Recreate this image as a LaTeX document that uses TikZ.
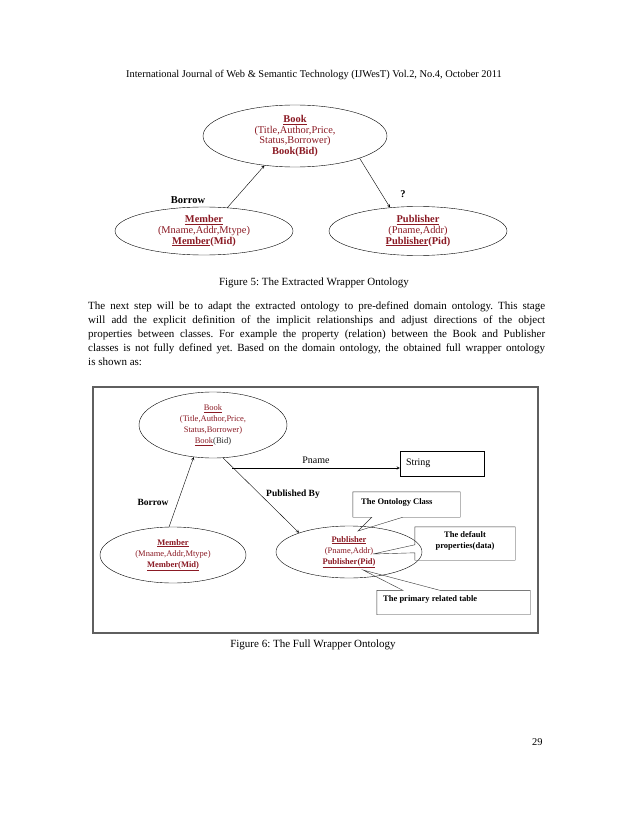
\documentclass[tikz,border=0pt]{standalone}
\usepackage{fontspec}
\setmainfont{Liberation Serif}
\usepackage{xcolor}
\usetikzlibrary{shapes.geometric,calc}
\definecolor{classred}{RGB}{139,26,36}
\definecolor{framegray}{RGB}{95,95,95}
\frenchspacing

\begin{document}
\begin{tikzpicture}[x=1pt,y=-1pt,
		cls/.style={ellipse,draw,inner sep=0pt,align=center,text=classred},
		note/.style={inner sep=0pt,font=\fontsize{8.5}{11}\selectfont\bfseries},
		callout/.style={draw,black!80}]
		\useasboundingbox[fill=white] (0,0) rectangle (638,826);
		% page text
		\node[font=\fontsize{10.4}{12}\selectfont] (header) at (314,75) {International Journal of Web \& Semantic Technology (IJWesT) Vol.2, No.4, October 2011};
		\node[font=\fontsize{11}{13}\selectfont] (cap5) at (314,283) {Figure 5: The Extracted Wrapper Ontology};
		\node[anchor=north west, inner sep=0pt, text width=457pt, align=justify, font=\fontsize{11}{14}\selectfont] (para) at (88,302) {The next step will be to adapt the extracted ontology to pre-defined domain ontology. This stage\linebreak will add the explicit definition of the implicit relationships and adjust directions of the object\linebreak properties between classes. For example the property (relation) between the Book and Publisher\linebreak classes is not fully defined yet. Based on the domain ontology, the obtained full wrapper ontology\linebreak is shown as:};
		\node[font=\fontsize{11}{13}\selectfont] (cap6) at (313,645) {Figure 6: The Full Wrapper Ontology};
		\node[anchor=east, font=\fontsize{10.4}{12}\selectfont] (pageno) at (546,742) {29};

		% Figure 5: extracted ontology
		\begin{scope}[font=\fontsize{10.4}{10.6}\selectfont]
			\node[cls, minimum width=184pt, minimum height=62pt] (book5) at (295,136) {\underline{\textbf{Book}}\\(Title,Author,Price,\\Status,Borrower)\\\textbf{Book(Bid)}};
			\node[cls, minimum width=178pt, minimum height=48pt] (member5) at (204,231) {\underline{\textbf{Member}}\\(Mname,Addr,Mtype)\\\textbf{\underline{Member}(Mid)}};
			\node[cls, minimum width=178pt, minimum height=49pt] (pub5) at (418,231) {\underline{\textbf{Publisher}}\\(Pname,Addr)\\\textbf{\underline{Publisher}(Pid)}};
			\draw[-stealth] (member5.45) -- (book5.224);
			\draw[-stealth] (book5.-19) -- (pub5.140);
			\node[font=\fontsize{10.5}{12}\selectfont\bfseries] (borrow5) at (188,200) {Borrow};
			\node[font=\fontsize{10.5}{12}\selectfont\bfseries] (ask5) at (403,194) {?};
		\end{scope}

		% Figure 6: full wrapper ontology
		\draw[framegray, line width=1.2pt] (93,387) rectangle (538,633);
		\begin{scope}[font=\fontsize{8.5}{11}\selectfont]
			\node[cls, minimum width=148pt, minimum height=66pt] (book6) at (213,425) {\underline{Book}\\(Title,Author,Price,\\Status,Borrower)\\\underline{Book}\textcolor{black!85}{(Bid)}};
			\node[cls, minimum width=146pt, minimum height=56pt] (member6) at (173,555) {\underline{\textbf{Member}}\\(Mname,Addr,Mtype)\\\textbf{\underline{Member(Mid)}}};
			\node[cls, minimum width=146pt, minimum height=52pt] (pub6) at (349,552) {\underline{\textbf{Publisher}}\\(Pname,Addr)\\\textbf{\underline{Publisher(Pid)}}};
		\end{scope}
		\node[draw, minimum width=84pt, minimum height=25pt, inner xsep=6pt, text width=72pt, align=left, font=\fontsize{10}{12}\selectfont] (string) at (442,463.5) {String};
		\coordinate (pnstart) at (232,468);
		\draw[-stealth] (pnstart) -- (pnstart -| string.west) node[midway, above=1pt, font=\fontsize{10}{12}\selectfont] (pname) {Pname};
		\draw[-stealth] (book6.-73) -- (pub6.159);
		\draw[-stealth] (member6.98) -- (book6.239);
		\node[font=\fontsize{9.5}{12}\selectfont\bfseries] (borrow6) at (153,502) {Borrow};
		\node[font=\fontsize{9.5}{12}\selectfont\bfseries] (pubby) at (293,494) {Published By};

		% callouts
		\node[note, minimum width=107pt, minimum height=25pt] (ontclass) at (406.5,504.5) {};
		\node[note, anchor=west] (ontclasstext) at (361,502) {The Ontology Class};
		\coordinate (ontclasstip) at (358,531);
		\draw[callout] (ontclass.south west) -- (ontclass.north west) -- (ontclass.north east) -- (ontclass.south east)
			-- ($(ontclass.south west)+(50,0)$) -- (ontclasstip) -- ($(ontclass.south west)+(19,0)$) -- cycle;

		\node[note, minimum width=100pt, minimum height=33pt] (defprops) at (465,543.5) {};
		\node[note, align=center] (defpropstext) at (465,541) {The default\\properties(data)};
		\coordinate (defpropstip) at (373,554);
		\draw[callout] (defprops.north west) -- (defprops.north east) -- (defprops.south east) -- (defprops.south west)
			-- ($(defprops.north west)+(0,26)$) -- (defpropstip) -- ($(defprops.north west)+(0,18)$) -- cycle;

		\node[note, minimum width=153pt, minimum height=24pt] (primtable) at (453.5,602.5) {};
		\node[note, anchor=west] (primtabletext) at (383,599.5) {The primary related table};
		\coordinate (primtabletip) at (363,570);
		\draw[callout] (primtable.north west) -- ($(primtable.north west)+(26,0)$) -- (primtabletip) -- ($(primtable.north west)+(63,0)$)
			-- (primtable.north east) -- (primtable.south east) -- (primtable.south west) -- cycle;
	\end{tikzpicture}
\end{document}
